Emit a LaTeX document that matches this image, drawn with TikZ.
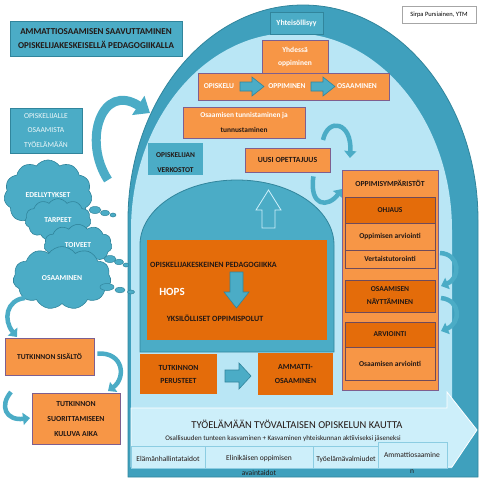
\documentclass[tikz,border=0pt]{standalone}
\usepackage{fontspec}
\setmainfont{Carlito}
\usetikzlibrary{shapes.symbols,arrows.meta}
\definecolor{tealA}{HTML}{4BACC6}
\definecolor{tealD}{HTML}{31859C}
\definecolor{tealB}{HTML}{3FA0BD}
\definecolor{lightB}{HTML}{B9E6F5}
\definecolor{arrowB}{HTML}{CDEFFA}
\definecolor{orangeL}{HTML}{F79646}
\definecolor{orangeD}{HTML}{E46C0A}
\definecolor{purp}{HTML}{7E5F8F}
\definecolor{brownp}{HTML}{6E4A5B}
\definecolor{txtD}{HTML}{231815}
\definecolor{cellB}{HTML}{8CCDE2}
\begin{document}
\begin{tikzpicture}[x=1pt,y=-1pt,
  box/.style={rectangle,inner sep=0pt,align=center,line width=0.8pt},
  obox/.style={box,fill=orangeL,draw=purp},
  dbox/.style={box,fill=orangeD,draw=brownp},
  ibox/.style={box,fill=orangeL,draw=brownp},
  tbox/.style={box,fill=tealA,draw=tealD},
  fb/.style={font=\fontsize{7.5}{13}\selectfont\bfseries},
  fr/.style={font=\fontsize{7.5}{13}\selectfont},
  carrow/.style={line width=4.5pt,draw=tealA,-{Triangle[length=7pt,width=12pt]}},
  blockarrow/.style={fill=tealA,draw=tealD,line width=0.6pt},
  cloudn/.style={cloud,cloud puffs=11,cloud puff arc=110,fill=tealA,draw=tealD,line width=0.6pt,inner sep=0pt,text=white,font=\fontsize{7.6}{9}\selectfont\bfseries},
  bubble/.style={fill=tealA,draw=tealD,line width=0.5pt},
  cell/.style={draw=cellB,line width=0.6pt,fill=arrowB}
]
\useasboundingbox (0,0) rectangle (480,480);

% big arch
\path[fill=tealB,draw=tealD,line width=0.8pt] (128,477) -- (128,220) .. controls (128,101.3) and (206.3,5) .. (303,5) .. controls (399.7,5) and (478,101.3) .. (478,220) -- (478,477) -- cycle;
\path[fill=lightB] (131,468) -- (131,230) .. controls (131,121.2) and (203.5,33) .. (291.5,33) .. controls (379.5,33) and (452,121.2) .. (452,230) -- (452,468) -- cycle;

% big bottom arrow
\path[fill=arrowB,draw=white,line width=0.8pt] (131,408) -- (447,408) -- (447,392) -- (477,430) -- (452,467) -- (131,467) -- cycle;

% inner dome
\path[fill=tealA,draw=tealD,line width=0.8pt] (140,352) -- (140,245) .. controls (140,209.1) and (183.4,180) .. (237,180) .. controls (290.6,180) and (334,209.1) .. (334,245) -- (334,352) -- cycle;
% up arrow in dome
\path[fill=tealA,draw=arrowB,line width=0.8pt] (262,228) -- (262,210) -- (256,210) -- (268.5,190) -- (281,210) -- (275,210) -- (275,228) -- cycle;

% title and author
\node[tbox,minimum width=172,minimum height=35,text=txtD,font=\fontsize{9}{14.5}\selectfont\bfseries] (title) at (96,38.5) {AMMATTIOSAAMISEN SAAVUTTAMINEN\\OPISKELIJAKESKEISELLÄ PEDAGOGIIKALLA};
\node[box,draw=gray!70,fill=white,line width=0.6pt,minimum width=74,minimum height=17,font=\fontsize{6.5}{8}\selectfont] (author) at (439,14.5) {Sirpa Pursiainen, YTM};

% top of arch
\node[tbox,minimum width=53,minimum height=22,text=white,font=\fontsize{7.8}{9}\selectfont\bfseries] (yht) at (296.5,23) {Yhteisöllisyy};
\node[obox,minimum width=66,minimum height=33,text=white,fb] (yhd) at (295,56.5) {Yhdessä\\oppiminen};
\node[obox,minimum width=191,minimum height=27] (row) at (293.5,86.5) {};
\node[fb,text=white,inner sep=0pt] (opiskelu) at (219,86) {OPISKELU};
\node[fb,text=white,inner sep=0pt] (oppiminen) at (287,86) {OPPIMINEN};
\node[fb,text=white,inner sep=0pt] (osaaminen) at (357,86) {OSAAMINEN};
\path[blockarrow] (240,82) -- (252,82) -- (252,77) -- (264,86.5) -- (252,96) -- (252,91) -- (240,91) -- cycle;
\path[blockarrow] (311,82) -- (323,82) -- (323,77) -- (335,86.5) -- (323,96) -- (323,91) -- (311,91) -- cycle;

\node[obox,minimum width=122,minimum height=31,font=\fontsize{7.4}{15}\selectfont\bfseries] (tunn) at (244,122.5) {\textcolor{white}{Osaamisen tunnistaminen ja}\\\textcolor{txtD}{tunnustaminen}};
\node[tbox,draw=none,minimum width=55,minimum height=32] (verk) at (175.5,159) {};
\node[fb,text=txtD,align=center,font=\fontsize{7.4}{15}\selectfont\bfseries] (verkt) at (175.5,163) {OPISKELIJAN\\VERKOSTOT};
\node[obox,minimum width=85,minimum height=24,text=txtD,font=\fontsize{7.8}{13}\selectfont\bfseries] (uusi) at (287.5,160) {UUSI OPETTAJUUS};

% curved arrows near UUSI OPETTAJUUS
\coordinate (c1a) at (323,140);
\coordinate (c1b) at (350,158);
\draw[carrow] (c1a) .. controls (328,117) and (352,122) .. (c1b);
\coordinate (c2b) at (342,189);
\draw[carrow] (uusi.south east)++(-17,4) .. controls (309,207) and (328,208) .. (c2b);

% learning environments
\node[obox,minimum width=96,minimum height=220] (ymp) at (390,280) {};
\node[fb,text=txtD,inner sep=0pt,font=\fontsize{7.7}{13}\selectfont\bfseries] (ympt) at (390,183) {OPPIMISYMPÄRISTÖT};
\node[dbox,minimum width=90,minimum height=26,fb,text=txtD] (ohjaus) at (390,210) {OHJAUS};
\node[ibox,minimum width=90,minimum height=27,fb,text=txtD] (opparv) at (390,236.5) {Oppimisen arviointi};
\node[ibox,minimum width=90,minimum height=18,fb,text=txtD] (vert) at (390,259) {Vertaistutorointi};
\node[dbox,minimum width=90,minimum height=32,fb,text=txtD] (nayt) at (390,296) {OSAAMISEN\\NÄYTTÄMINEN};
\node[dbox,minimum width=90,minimum height=25,fb,text=txtD] (arv) at (390,334.5) {ARVIOINTI};
\node[ibox,minimum width=90,minimum height=33,fb,text=txtD] (osarv) at (390,363.5) {Osaamisen arviointi};
\coordinate (c3a) at (440,253);
\coordinate (c3b) at (441,286);
\draw[carrow] (c3a) .. controls (460,254) and (461,278) .. (c3b);
\coordinate (c4a) at (441,298);
\coordinate (c4b) at (441,331);
\draw[carrow] (c4a) .. controls (461,300) and (461,323) .. (c4b);

% inside dome
\node[box,fill=orangeD,draw=none,minimum width=180,minimum height=100] (ped) at (237,290) {};
\node[text=txtD,anchor=west,inner sep=0pt,font=\fontsize{8}{13}\selectfont\bfseries] (pedt) at (150,265) {OPISKELIJAKESKEINEN PEDAGOGIIKKA};
\node[text=white,font=\fontsize{11}{12}\selectfont\bfseries,inner sep=0pt] (hops) at (172,292) {HOPS};
\node[text=txtD,inner sep=0pt,font=\fontsize{8}{13}\selectfont\bfseries] (polut) at (215,318) {YKSILÖLLISET OPPIMISPOLUT};
\path[blockarrow] (230,272) -- (243,272) -- (243,292) -- (249,292) -- (236.5,308) -- (224,292) -- (230,292) -- cycle;

\node[box,fill=orangeD,draw=none,minimum width=77,minimum height=40,text=txtD,font=\fontsize{7.8}{13}\selectfont\bfseries] (perus) at (178.5,374) {TUTKINNON\\PERUSTEET};
\node[box,fill=orangeD,draw=none,minimum width=75,minimum height=42,text=txtD,font=\fontsize{7.8}{14}\selectfont\bfseries] (ammatti) at (295.5,374) {AMMATTI-\\OSAAMINEN};
\path[blockarrow] (225,370) -- (239,370) -- (239,363) -- (251,376) -- (239,389) -- (239,382) -- (225,382) -- cycle;

% bottom arrow texts
\node[font=\fontsize{10.5}{12}\selectfont,text=txtD,inner sep=0pt] (tyo) at (297,424) {TYÖELÄMÄÄN TYÖVALTAISEN OPISKELUN KAUTTA};
\node[font=\fontsize{7}{9}\selectfont,text=txtD,inner sep=0pt] (osal) at (283,439) {Osallisuuden tunteen kasvaminen + Kasvaminen yhteiskunnan aktiiviseksi jäseneksi};
\coordinate (la) at (148,446);
\coordinate (lb) at (410,446);
\draw[tealD,line width=0.6pt] (la) -- (lb);
\path[cell] (131,446) rectangle (205,468);
\path[cell] (205,446) rectangle (313,468);
\path[cell] (313,446) rectangle (378,468);
\path[cell] (378,442) rectangle (447,468);
\node[fr,text=txtD,inner sep=0pt] (c1) at (168,459) {Elämänhallintataidot};
\node[fr,text=txtD,inner sep=0pt] (c2) at (259,458) {Elinikäisen oppimisen};
\node[fr,text=txtD,inner sep=0pt] (c2b) at (259,473) {avaintaidot};
\node[fr,text=txtD,inner sep=0pt] (c3) at (346,459) {Työelämävalmiudet};
\node[fr,text=txtD,inner sep=0pt] (c4) at (412,455) {Ammattiosaamine};
\node[fr,text=txtD,inner sep=0pt] (c4b) at (412,472) {n};

% left side
\node[tbox,minimum width=72,minimum height=45,text=white!90!tealA,font=\fontsize{7.6}{14.5}\selectfont] (tyoel) at (46,130.5) {OPISKELIJALLE\\OSAAMISTA\\TYÖELÄMÄÄN};
\coordinate (bigA) at (108,180);
\coordinate (bigB) at (150,113);
\draw[line width=9pt,draw=tealA,-{Triangle[length=14pt,width=22pt]}] (bigA) .. controls (82,140) and (102,82) .. (bigB);

\node[cloudn,minimum width=88,minimum height=36] (ede) at (48,195) {EDELLYTYKSET};
\node[cloudn,minimum width=66,minimum height=33] (tar) at (58,220) {TARPEET};
\node[cloudn,minimum width=68,minimum height=36] (toi) at (78,245) {TOIVEET};
\node[cloudn,minimum width=98,minimum height=31] (osa) at (62,278) {OSAAMINEN};
\path[bubble] (95,210) ellipse (6 and 3.5);
\path[bubble] (105,213) ellipse (4.5 and 2.8);
\path[bubble] (113,215) ellipse (3 and 2);
\path[bubble] (110,259) ellipse (6 and 3.5);
\path[bubble] (119,262) ellipse (4.5 and 2.8);
\path[bubble] (126,265) ellipse (3 and 2);
\path[bubble] (107,287) ellipse (7 and 3.5);
\path[bubble] (120,290) ellipse (5 and 2.8);
\path[bubble] (131,292) ellipse (3.5 and 2);

\node[obox,minimum width=89,minimum height=37,fb,text=txtD] (sis) at (49.5,356.5) {TUTKINNON SISÄLTÖ};
\node[obox,minimum width=88,minimum height=51,text=txtD,font=\fontsize{7.7}{15}\selectfont\bfseries] (aika) at (76,418.5) {TUTKINNON\\SUORITTAMISEEN\\KULUVA AIKA};

\coordinate (c5a) at (25,298);
\coordinate (c5b) at (17,337);
\draw[carrow] (c5a) .. controls (6,300) and (3,320) .. (c5b);
\coordinate (c6b) at (108,391);
\draw[carrow] (sis.east)++(3,-3) .. controls (124,352) and (126,378) .. (c6b);
\coordinate (c7a) at (11,392);
\coordinate (c7b) at (30,418);
\draw[carrow] (c7a) .. controls (-1,406) and (6,421) .. (c7b);
\end{tikzpicture}
\end{document}
